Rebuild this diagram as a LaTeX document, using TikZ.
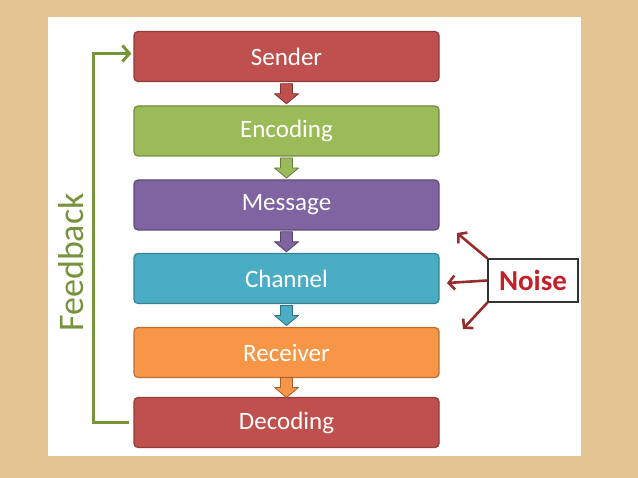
\documentclass[tikz,border=0pt]{standalone}
\usepackage{fontspec}
\setmainfont{Carlito}
\usetikzlibrary{arrows.meta,calc}
\definecolor{wood}{RGB}{228,196,146}
\definecolor{cred}{RGB}{192,80,77}
\definecolor{cgreen}{RGB}{155,187,89}
\definecolor{cpurple}{RGB}{128,100,162}
\definecolor{ccyan}{RGB}{75,172,198}
\definecolor{corange}{RGB}{247,150,70}
\definecolor{fbgreen}{RGB}{119,147,60}
\definecolor{noisered}{RGB}{150,45,45}
\definecolor{noisetext}{RGB}{196,32,42}
\tikzset{
  stepbox/.style={draw=#1!75!black, fill=#1, line width=1.2pt, rounded corners=4pt,
    minimum width=305pt, minimum height=50pt, text=white, font=\fontsize{25}{30}\selectfont},
  pics/downarrow/.style={code={
    \draw[fill=#1, draw=#1!65!black, line width=0.8pt, line join=round]
      (-6,-10) -- (-6,0) -- (-12,0) -- (0,10) -- (12,0) -- (6,0) -- (6,-10) -- cycle;}},
  fbline/.style={draw=fbgreen, line width=3pt},
  noisearrow/.style={draw=noisered, line width=2.6pt, -{Straight Barb[length=6pt,width=14pt]}},
}
\begin{document}
\begin{tikzpicture}[x=1pt,y=-1pt]
\useasboundingbox (0,0) rectangle (638,478);
\fill[wood] (0,0) rectangle (638,478);
\fill[white] (48,17) rectangle (581,456);

\node[stepbox=cred]    (sender)  at (286.5,56.5)  {Sender};
\node[stepbox=cgreen]  (enc)     at (286.5,131)   {Encoding};
\node[stepbox=cpurple] (msg)     at (286.5,205)   {Message};
\node[stepbox=ccyan]   (chan)    at (286.5,278.5) {Channel};
\node[stepbox=corange] (recv)    at (286.5,352.5) {Receiver};
\node[stepbox=cred]    (dec)     at (286.5,422.5) {Decoding};

\path ($(sender.south)!0.5!(enc.north)$) pic {downarrow=cred};
\path ($(enc.south)!0.5!(msg.north)$) pic {downarrow=cgreen};
\path ($(msg.south)!0.5!(chan.north)$) pic {downarrow=cpurple};
\path ($(chan.south)!0.5!(recv.north)$) pic {downarrow=ccyan};
\path ($(recv.south)!0.5!(dec.north)$) pic {downarrow=corange};

\coordinate (fbstart) at ($(dec.west)+(-4,0)$);
\coordinate (fbcorner) at (93,422.5);
\draw[fbline, -{Straight Barb[length=7pt,width=16pt]}, line join=miter]
  (fbstart) -- (fbcorner) |- ($(sender.west)+(-2,-3)$);
\node[rotate=90, anchor=base, text=fbgreen, font=\fontsize{36}{40}\selectfont] (fb) at (83,262.5) {Feedback};

\node[draw=black!80, line width=1.2pt, minimum width=90pt, minimum height=43pt,
  text=noisetext, font=\bfseries\fontsize{29}{32}\selectfont] (noise) at (533,280.5) {Noise};
\coordinate (nup) at (457,233);
\coordinate (nleft) at (447,283);
\coordinate (ndown) at (463,329);
\draw[noisearrow] (noise.north west) -- (nup);
\draw[noisearrow] (noise.west) -- (nleft);
\draw[noisearrow] (noise.south west) -- (ndown);
\end{tikzpicture}
\end{document}
